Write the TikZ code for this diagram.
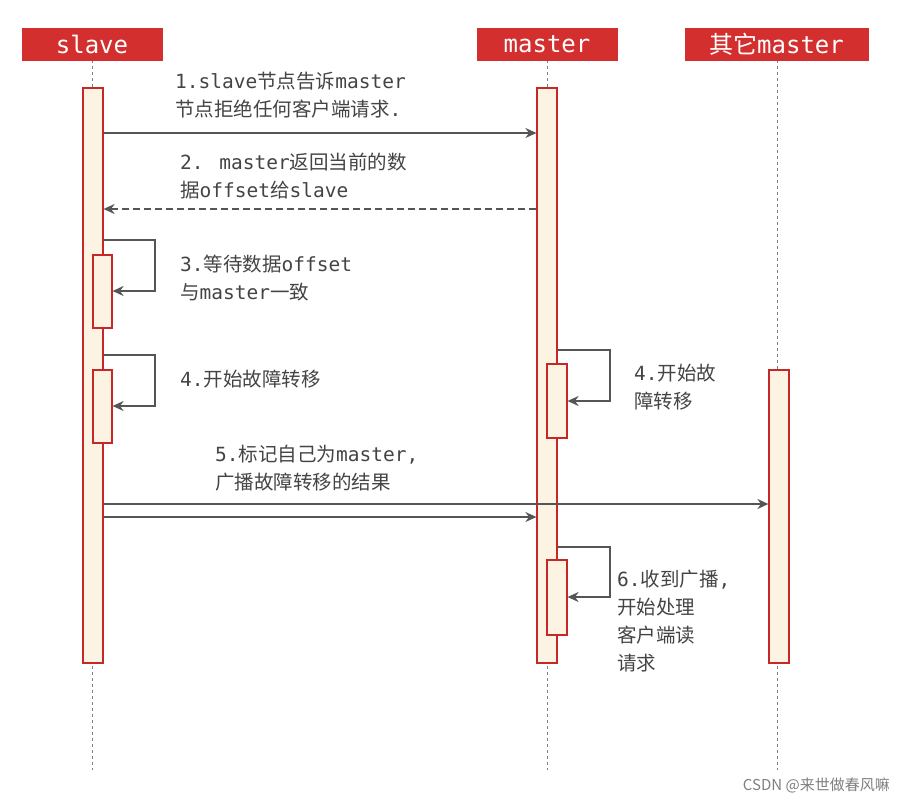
\documentclass[tikz,border=0pt]{standalone}
\usepackage{fontspec}
\setmainfont{Noto Sans CJK SC}
\newfontfamily\mn{DejaVu Sans Mono}
\newcommand{\m}[1]{{\mn #1}}
\usetikzlibrary{arrows.meta}
\definecolor{hdr}{HTML}{D32F2F}
\definecolor{barfill}{HTML}{FDF3E3}
\definecolor{barline}{HTML}{C62828}
\definecolor{ln}{HTML}{555555}
\begin{document}
\begin{tikzpicture}[x=1pt,y=-1pt,
  hdrbox/.style={fill=hdr,draw=hdr,text=white,font=\fontsize{24}{24}\selectfont,inner sep=0pt},
  bar/.style={fill=barfill,draw=barline,line width=1.2pt},
  life/.style={draw=gray,dashed,line width=0.8pt},
  msg/.style={draw=ln,line width=1.6pt,-{Stealth[length=11pt,width=10pt]}},
  lbl/.style={font=\fontsize{19.5}{28}\selectfont,text=ln!80!black,align=left,anchor=north west,inner sep=0pt}]
\useasboundingbox (0,0) rectangle (904,803);
\fill[white] (0,0) rectangle (904,803);
% lifelines
\draw[life] (92,60) -- (92,770);
\draw[life] (547,60) -- (547,770);
\draw[life] (777,60) -- (777,770);
% headers
\node[hdrbox,minimum width=140pt,minimum height=32pt] (hs) at (92,44) {\m{slave}};
\node[hdrbox,minimum width=140pt,minimum height=32pt] (hm) at (547,44) {\m{master}};
\node[hdrbox,minimum width=183pt,minimum height=32pt] (ho) at (776.5,44) {其它\m{master}};
% bars
\node[bar,minimum width=20pt,minimum height=575pt,inner sep=0pt] (bs) at (93,375.5) {};
\node[bar,minimum width=20pt,minimum height=575pt,inner sep=0pt] (bm) at (547,375.5) {};
\node[bar,minimum width=20pt,minimum height=293pt,inner sep=0pt] (bo) at (779,516.5) {};
\node[bar,minimum width=19pt,minimum height=73pt,inner sep=0pt] (s1) at (102.5,291.5) {};
\node[bar,minimum width=19pt,minimum height=73pt,inner sep=0pt] (s2) at (102.5,406.5) {};
\node[bar,minimum width=20pt,minimum height=74pt,inner sep=0pt] (m1) at (557,401) {};
\node[bar,minimum width=20pt,minimum height=75pt,inner sep=0pt] (m2) at (557,597.5) {};
% messages
\draw[msg] (bs.east |- 0,133) -- (bm.west |- 0,133);
\draw[msg,dash pattern=on 7pt off 4pt] (bm.west |- 0,209) -- (bs.east |- 0,209);
\draw[msg] (bs.east |- 0,240) -- (155,240) -- (155,291) -- (s1.east |- 0,291);
\draw[msg] (bs.east |- 0,355) -- (155,355) -- (155,406) -- (s2.east |- 0,406);
\draw[msg] (bm.east |- 0,350) -- (610,350) -- (610,401) -- (m1.east |- 0,401);
\draw[msg] (bm.east |- 0,547) -- (610,547) -- (610,597) -- (m2.east |- 0,597);
\draw[msg] (bs.east |- 0,504) -- (bo.west |- 0,504);
\draw[msg] (bs.east |- 0,517) -- (bm.west |- 0,517);
% labels
\node[lbl] (l1) at (175,72) {\m{1.slave}节点告诉\m{master}\\节点拒绝任何客户端请求\m{.}};
\node[lbl] (l2) at (180,153) {\m{2. master}返回当前的数\\据\m{offset}给\m{slave}};
\node[lbl] (l3) at (180,255) {\m{3.}等待数据\m{offset}\\与\m{master}一致};
\node[lbl] (l4) at (180,370) {\m{4.}开始故障转移};
\node[lbl] (l5) at (634,364) {\m{4.}开始故\\障转移};
\node[lbl] (l6) at (215,445) {\m{5.}标记自己为\m{master,}\\广播故障转移的结果};
\node[lbl] (l7) at (617,570) {\m{6.}收到广播\m{,}\\开始处理\\客户端读\\请求};
\node[font=\fontsize{15}{16}\selectfont,text=gray,anchor=south east,inner sep=0pt] (wm) at (890,793) {CSDN @来世做春风嘛};
\end{tikzpicture}
\end{document}
